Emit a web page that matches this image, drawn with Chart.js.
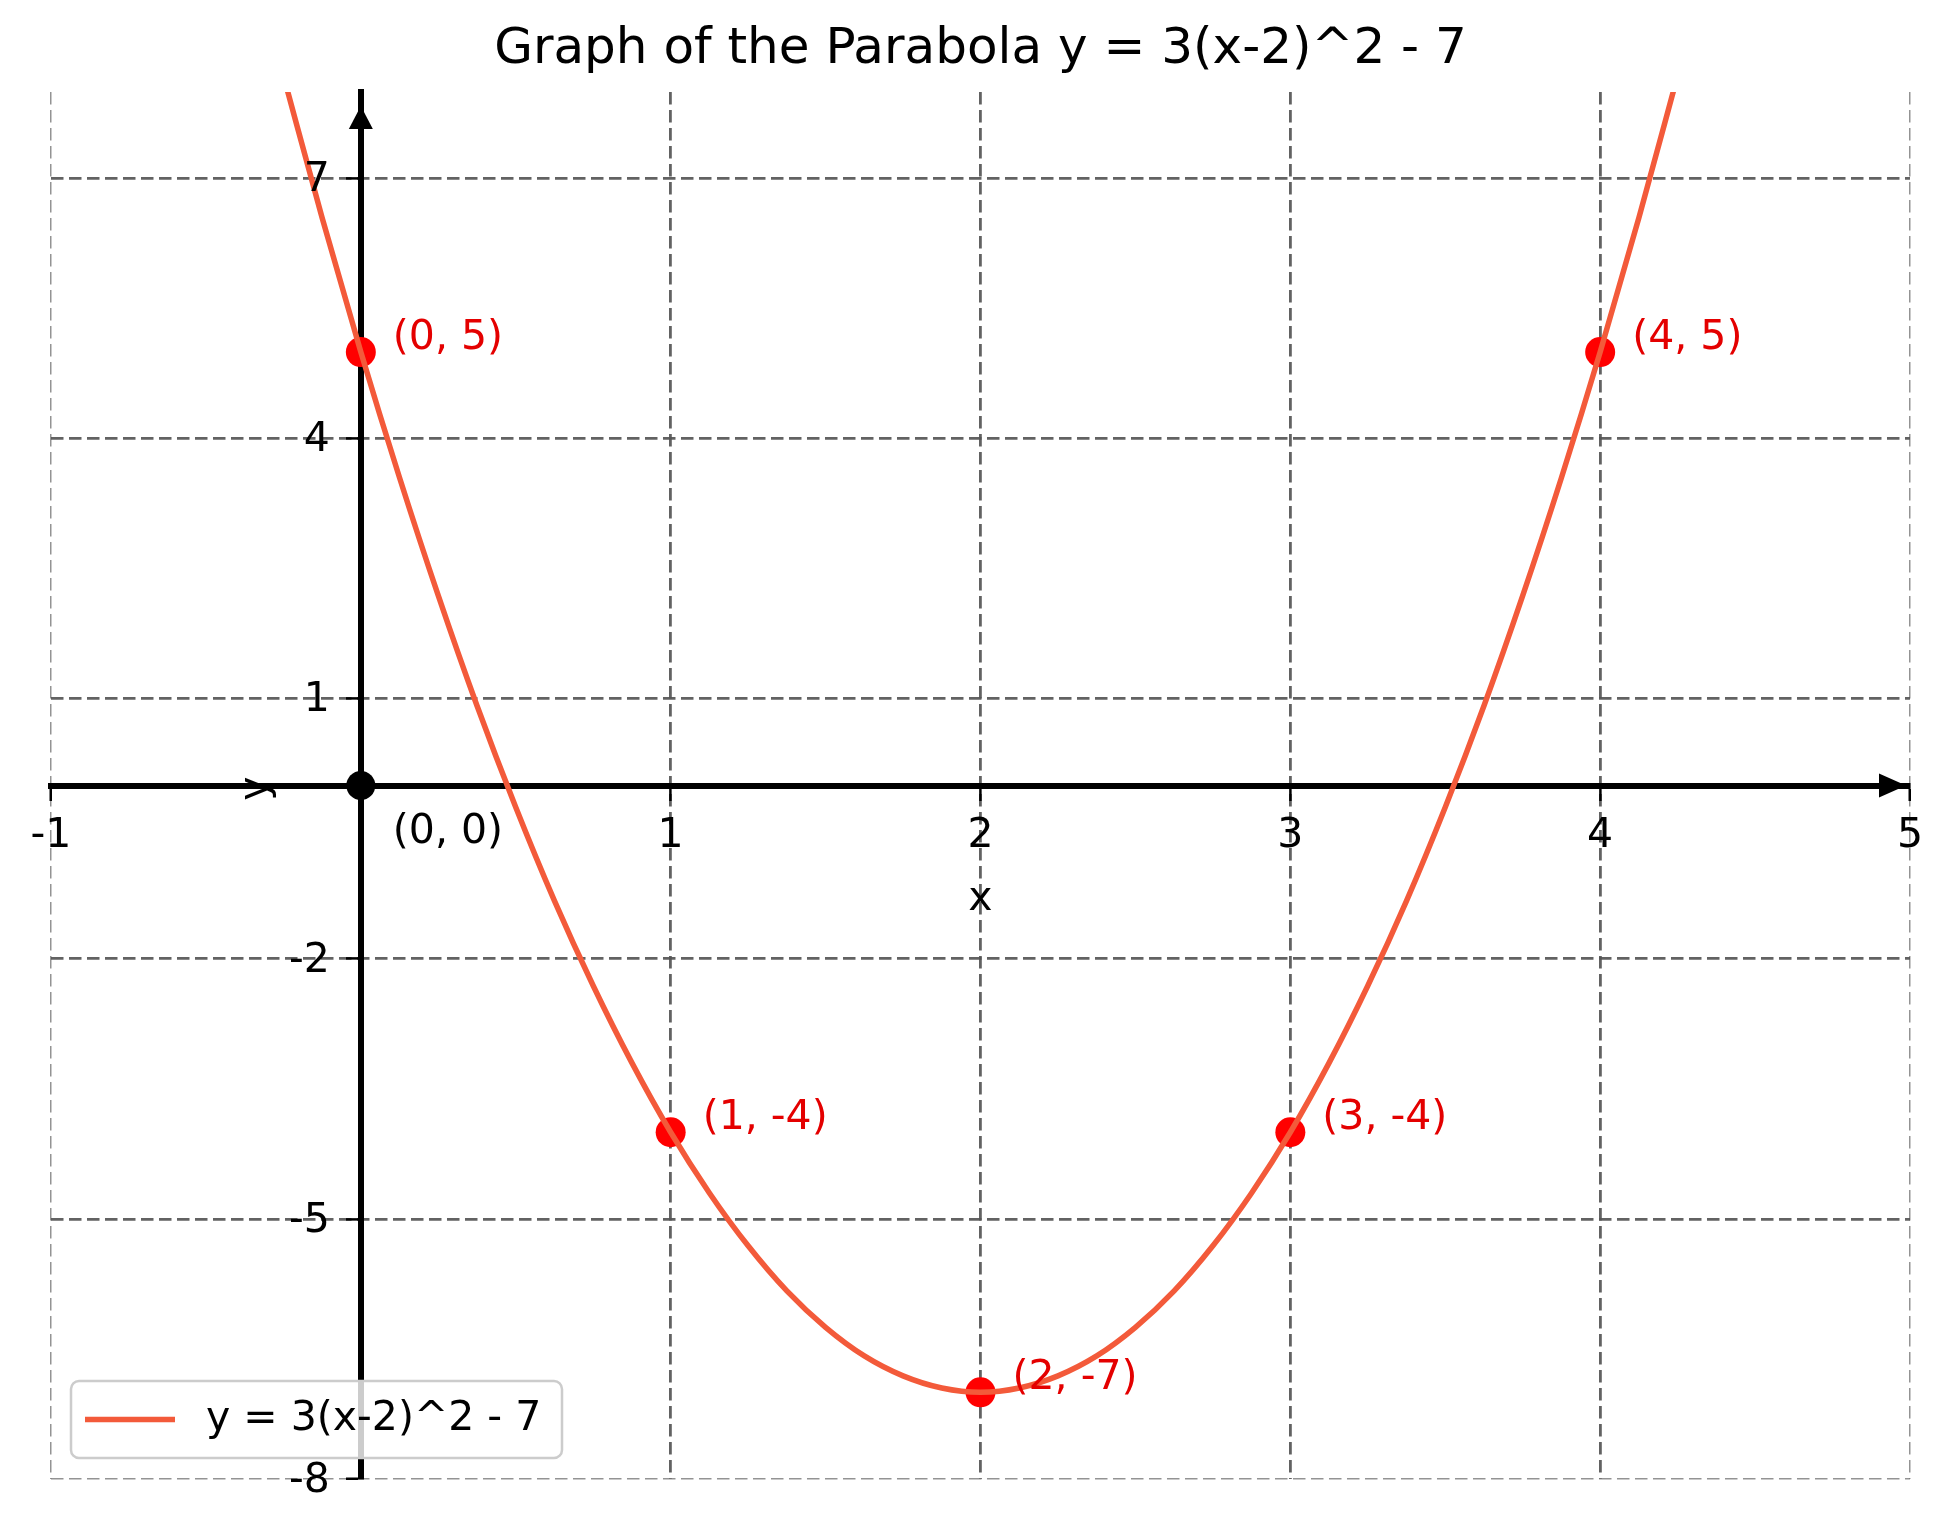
<!DOCTYPE html>
<html lang="en">
<head>
<meta charset="UTF-8">
<title>Graph of the Parabola</title>
<script src="https://cdn.jsdelivr.net/npm/chart.js"></script>
<style>
  body { margin: 0; background: #fff; }
</style>
</head>
<body>
<canvas id="chart" width="1954" height="1534"></canvas>
<script>
// curve samples
const curveX = [-0.25, -0.125, 0, 0.125, 0.25, 0.375, 0.5, 0.625, 0.75, 0.875, 1, 1.125, 1.25, 1.375, 1.5, 1.625, 1.75, 1.875, 2,
                2.125, 2.25, 2.375, 2.5, 2.625, 2.75, 2.875, 3, 3.125, 3.25, 3.375, 3.5, 3.625, 3.75, 3.875, 4, 4.125, 4.25];
const curveY = [8.19, 6.55, 5, 3.55, 2.19, 0.92, -0.25, -1.33, -2.31, -3.2, -4, -4.7, -5.31, -5.83, -6.25, -6.58, -6.81, -6.95, -7,
                -6.95, -6.81, -6.58, -6.25, -5.83, -5.31, -4.7, -4, -3.2, -2.31, -1.33, -0.25, 0.92, 2.19, 3.55, 5, 6.55, 8.19];

// marked points
const ptX = [0, 4, 1, 3, 2];
const ptY = [5, 5, -4, -4, -7];
const ptLabels = ['(0, 5)', '(4, 5)', '(1, -4)', '(3, -4)', '(2, -7)'];
const originX = [0];
const originY = [0];
const originLabels = ['(0, 0)'];

// axes
const xTicks = [-1, 0, 1, 2, 3, 4, 5];
const xTickLabels = ['-1', '', '1', '2', '3', '4', '5'];
const yTicks = [-8, -5, -2, 1, 4, 7];
const yTickLabels = ['-8', '-5', '-2', '1', '4', '7'];

const FONT = 'DejaVu Sans';
const CURVE_COLOR = '#f35a3a';
const GRID = 'rgba(85,85,85,0.92)';

const isEdge = (c, lo, hi) => c.tick && (c.tick.value === lo || c.tick.value === hi);

// arrows, point labels, y tick labels, rotated y label and the legend box
const extras = {
    id: 'extras',
    afterDatasetsDraw(chart) {
        const { ctx, chartArea, scales: { x, y } } = chart;
        const x0 = x.getPixelForValue(0);
        const y0 = y.getPixelForValue(0);
        ctx.save();

        // arrow heads
        ctx.fillStyle = '#000';
        ctx.beginPath();
        ctx.moveTo(x0, chartArea.top + 14);
        ctx.lineTo(x0 - 12, chartArea.top + 37);
        ctx.lineTo(x0 + 12, chartArea.top + 37);
        ctx.closePath();
        ctx.fill();
        const xr = x.getPixelForValue(5);
        ctx.beginPath();
        ctx.moveTo(xr - 4, y0);
        ctx.lineTo(xr - 31, y0 - 12);
        ctx.lineTo(xr - 31, y0 + 12);
        ctx.closePath();
        ctx.fill();

        ctx.font = '41px "' + FONT + '"';
        ctx.textBaseline = 'middle';

        // y tick labels, to the left of the tick marks
        ctx.textAlign = 'right';
        y.ticks.forEach((t, i) => {
            ctx.fillText(yTickLabels[i], x0 - 31, y.getPixelForValue(t.value) + 2);
        });

        // point labels
        ctx.textAlign = 'left';
        ctx.fillStyle = '#e40000';
        ptX.forEach((v, i) => {
            ctx.fillText(ptLabels[i], x.getPixelForValue(v) + 32, y.getPixelForValue(ptY[i]) - 14);
        });
        ctx.fillStyle = '#000';
        originX.forEach((v, i) => {
            ctx.fillText(originLabels[i], x.getPixelForValue(v) + 32, y.getPixelForValue(originY[i]) + 47);
        });

        // y label (rotated)
        ctx.translate(x0 - 104, (chartArea.top + chartArea.bottom) / 2 + 3);
        ctx.rotate(-Math.PI / 2);
        ctx.textAlign = 'center';
        ctx.fillText('y', 0, 0);
        ctx.restore();
    },
    afterDraw(chart) {
        const { ctx, chartArea } = chart;
        const ds = chart.data.datasets[0];
        const left = chartArea.left + 20, top = chartArea.bottom - 98;
        const w = 491, h = 77;
        ctx.save();
        ctx.beginPath();
        ctx.roundRect(left, top, w, h, 8);
        ctx.fillStyle = 'rgba(255,255,255,0.8)';
        ctx.fill();
        ctx.lineWidth = 2.5;
        ctx.strokeStyle = '#cccccc';
        ctx.stroke();
        const cy = top + h / 2;
        ctx.beginPath();
        ctx.moveTo(left + 14, cy);
        ctx.lineTo(left + 104, cy);
        ctx.lineWidth = 5.5;
        ctx.strokeStyle = ds.borderColor;
        ctx.stroke();
        ctx.font = '41px "' + FONT + '"';
        ctx.fillStyle = '#000';
        ctx.textAlign = 'left';
        ctx.textBaseline = 'middle';
        ctx.fillText(ds.label, left + 135, cy);
        ctx.restore();
    }
};

new Chart(document.getElementById('chart'), {
    type: 'scatter',
    data: {
        datasets: [
            {
                label: 'y = 3(x-2)^2 - 7',
                data: curveX.map((v, i) => ({ x: v, y: curveY[i] })),
                showLine: true,
                borderColor: CURVE_COLOR,
                borderWidth: 5.5,
                pointRadius: 0,
                cubicInterpolationMode: 'monotone'
            },
            {
                label: 'points',
                data: ptX.map((v, i) => ({ x: v, y: ptY[i] })),
                pointRadius: 15,
                backgroundColor: '#ff0000',
                borderWidth: 0
            },
            {
                label: 'origin',
                data: originX.map((v, i) => ({ x: v, y: originY[i] })),
                pointRadius: 14.5,
                backgroundColor: '#000',
                borderWidth: 0
            }
        ]
    },
    options: {
        responsive: false,
        animation: false,
        layout: { padding: { left: 51, right: 44, bottom: 55, top: 0 } },
        plugins: {
            legend: { display: false },
            tooltip: { enabled: false },
            title: {
                display: true,
                text: 'Graph of the Parabola y = 3(x-2)^2 - 7',
                color: '#000',
                font: { family: FONT, size: 50, weight: 'normal' },
                padding: { top: 20, bottom: 12 }
            }
        },
        scales: {
            x: {
                type: 'linear',
                min: -1,
                max: 5,
                position: { y: 0 },
                afterBuildTicks: s => { s.ticks = xTicks.map(v => ({ value: v })); },
                ticks: {
                    callback: (v, i) => xTickLabels[i],
                    autoSkip: false,
                    maxRotation: 0,
                    color: '#000',
                    font: { family: FONT, size: 41 },
                    padding: 14
                },
                grid: {
                    color: c => isEdge(c, -1, 5) ? 'rgba(120,120,120,0.8)' : GRID,
                    lineWidth: c => isEdge(c, -1, 5) ? 1.5 : 2.8,
                    tickColor: '#000',
                    tickWidth: 2.5,
                    tickLength: 12
                },
                border: { display: true, color: '#000', width: 6, dash: [12.5, 5.5] },
                title: {
                    display: true,
                    text: 'x',
                    color: '#000',
                    font: { family: FONT, size: 41 },
                    padding: { top: 0, bottom: 0 }
                }
            },
            y: {
                type: 'linear',
                min: -8,
                max: 8,
                position: { x: 0 },
                afterBuildTicks: s => { s.ticks = yTicks.map(v => ({ value: v })); },
                ticks: { display: false },
                grid: {
                    color: c => isEdge(c, -8, 99) ? 'rgba(120,120,120,0.8)' : GRID,
                    lineWidth: c => isEdge(c, -8, 99) ? 1.5 : 2.8,
                    tickColor: '#000',
                    tickWidth: 2.5,
                    tickLength: 12
                },
                border: { display: true, color: '#000', width: 6, dash: [12.5, 5.5] }
            }
        }
    },
    plugins: [extras]
});
</script>
</body>
</html>
